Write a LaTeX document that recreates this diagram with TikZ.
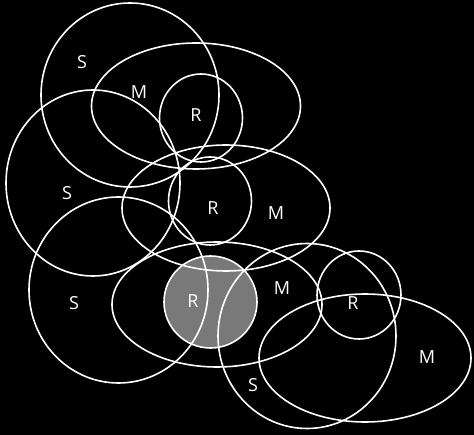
\documentclass[tikz,border=0pt]{standalone}
\usepackage{fontspec}
\setmainfont{Open Sans}
\begin{document}
\begin{tikzpicture}[x=1pt, y=-1pt,
        ring/.style={draw=white, line width=1.6pt},
        lbl/.style={text=white, font=\fontsize{18}{18}\selectfont, inner sep=0pt}]
        %background
        \fill[black] (0, 0) rectangle (474, 435);
        \useasboundingbox (0, 0) rectangle (474, 435);

        %shaded circle
        \fill[gray!95!black] (210.5, 302) ellipse [x radius=46.5pt, y radius=46pt];

        %upper group
        \draw[ring] (130, 95) ellipse [x radius=89pt, y radius=92pt];
        \draw[ring] (196, 106) ellipse [x radius=104.5pt, y radius=63pt];
        \draw[ring] (201, 118) ellipse [x radius=41.5pt, y radius=44pt];

        %second group
        \draw[ring] (93, 183) ellipse [x radius=87pt, y radius=93pt];
        \draw[ring] (226, 208) ellipse [x radius=104pt, y radius=63pt];
        \draw[ring] (210, 201) ellipse [x radius=41.5pt, y radius=44pt];

        %third group
        \draw[ring] (118.5, 290) ellipse [x radius=89.5pt, y radius=93pt];
        \draw[ring] (217, 304.5) ellipse [x radius=105pt, y radius=62.5pt];
        \draw[ring] (210.5, 302) ellipse [x radius=46.5pt, y radius=46pt];

        %lower group
        \draw[ring] (307, 336) ellipse [x radius=89pt, y radius=92.5pt];
        \draw[ring] (359, 295) ellipse [x radius=42pt, y radius=44pt];
        \draw[ring] (365, 358) ellipse [x radius=106pt, y radius=64pt];

        %labels
        \node[lbl] (s1) at (82, 62) {S};
        \node[lbl] (m1) at (139, 92) {M};
        \node[lbl] (r1) at (196, 115) {R};
        \node[lbl] (s2) at (67, 193) {S};
        \node[lbl] (r2) at (213, 208) {R};
        \node[lbl] (m2) at (276, 213) {M};
        \node[lbl] (s3) at (74, 303) {S};
        \node[lbl] (r3) at (193, 301) {R};
        \node[lbl] (m3) at (282, 288) {M};
        \node[lbl] (s4) at (253, 385) {S};
        \node[lbl] (r4) at (353, 303) {R};
        \node[lbl] (m4) at (427, 357) {M};
    \end{tikzpicture}
\end{document}
